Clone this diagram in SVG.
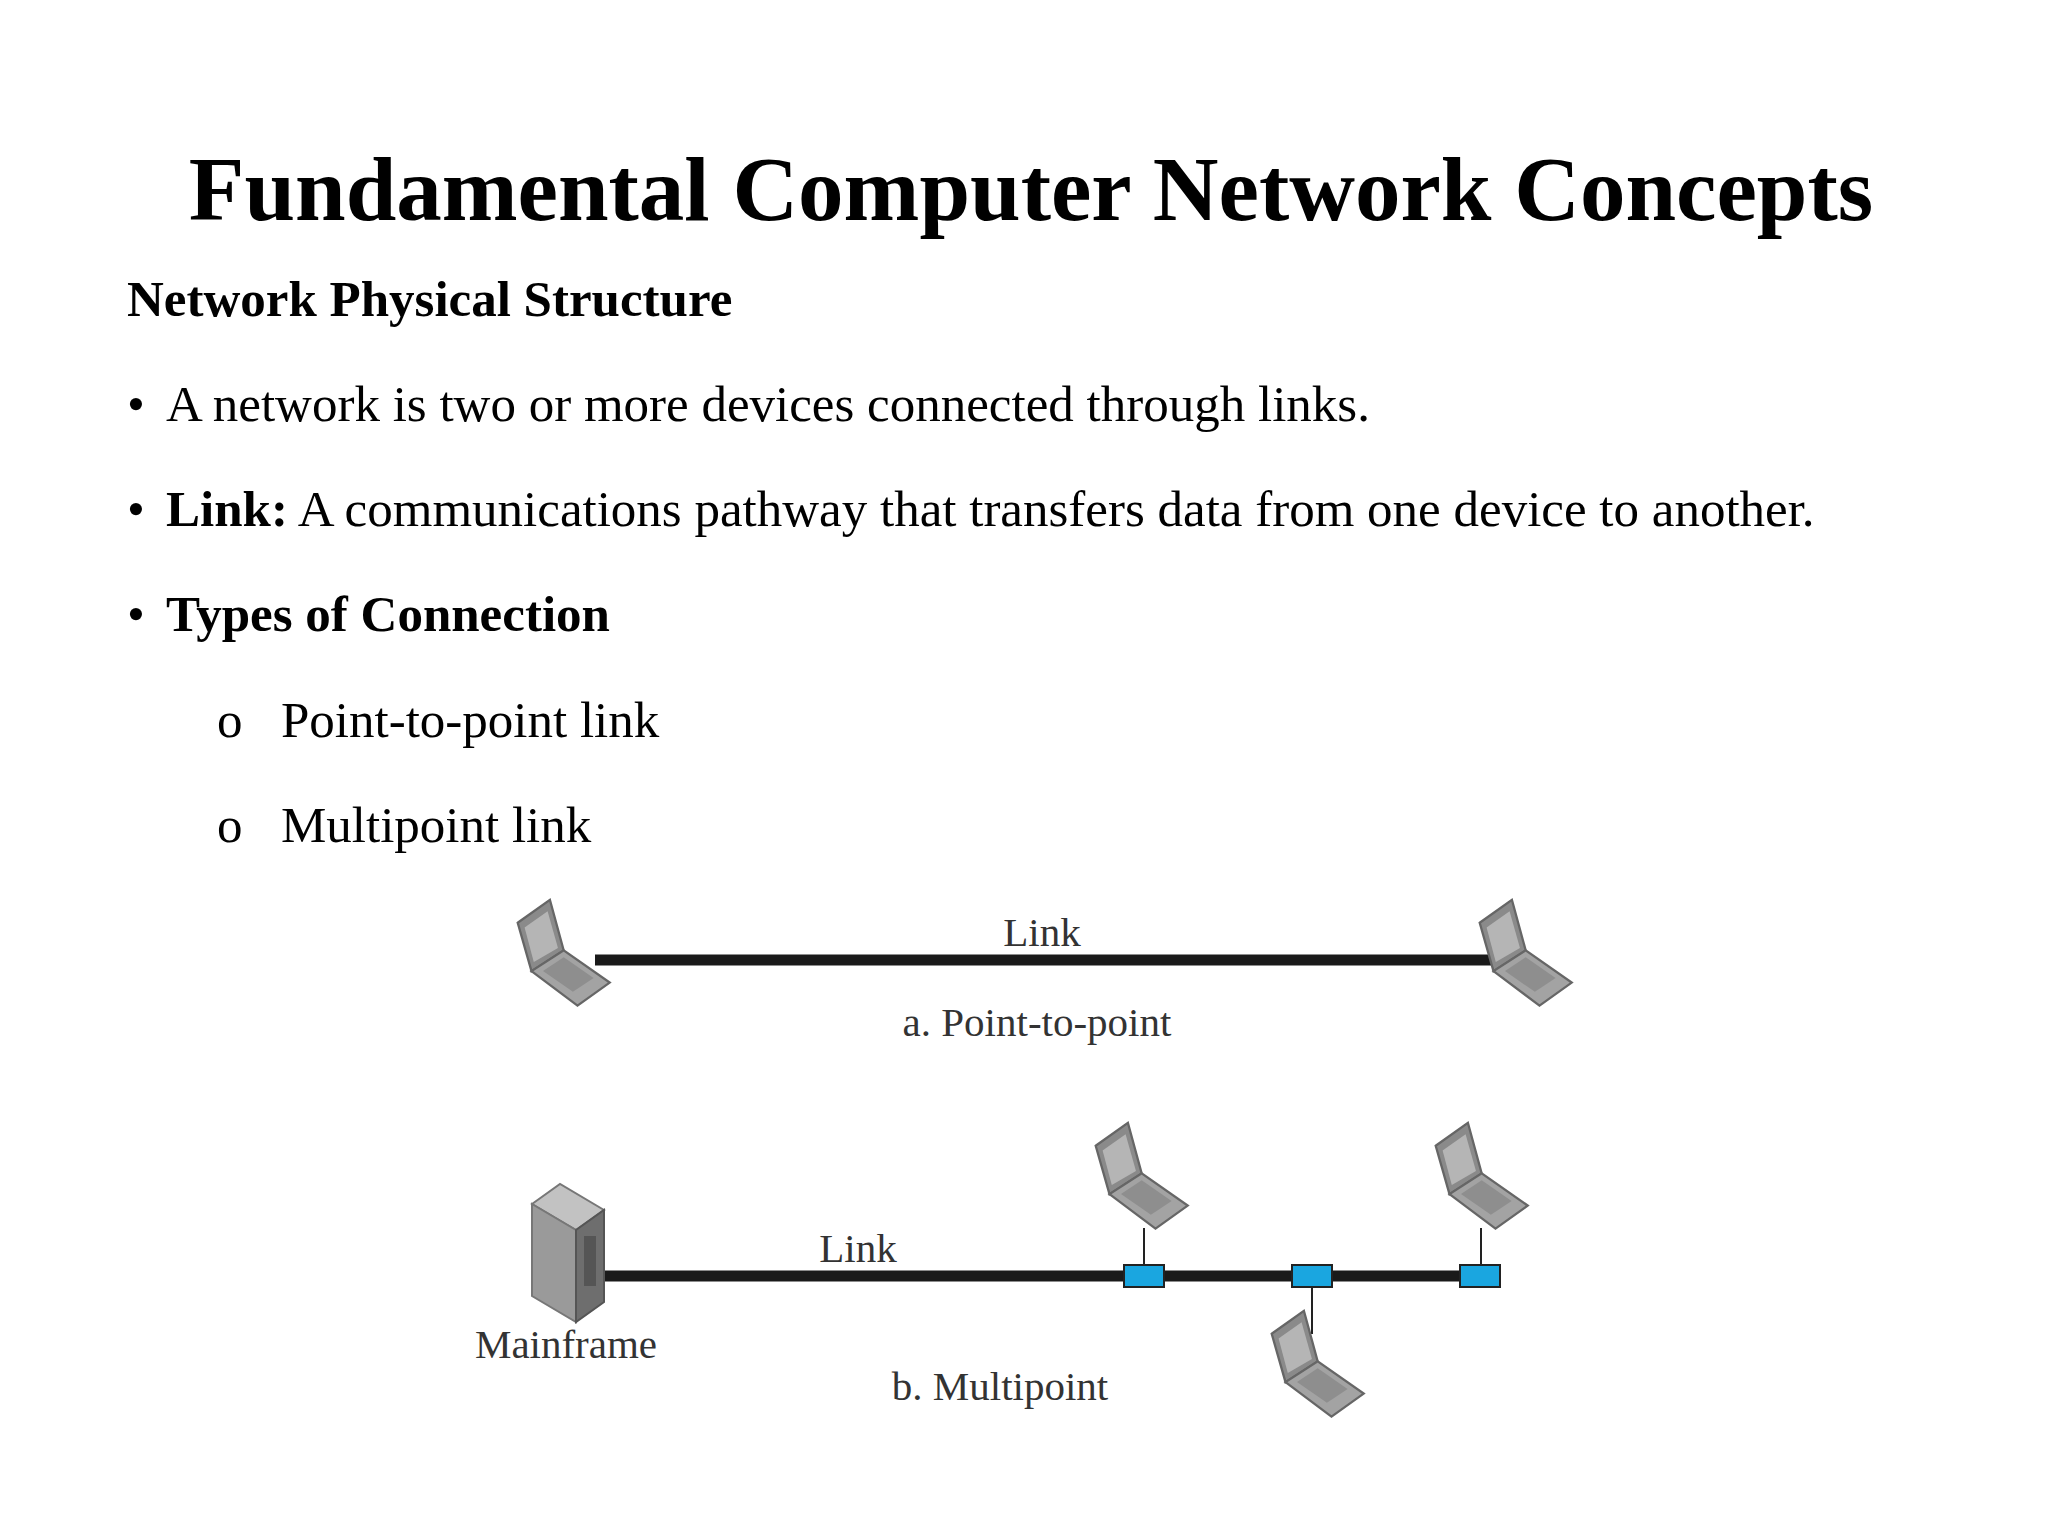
<svg xmlns="http://www.w3.org/2000/svg" width="2048" height="1536" viewBox="0 0 2048 1536">
<style>
.t{font-family:"Liberation Serif","Times New Roman",serif;fill:#000}
.d{font-family:"Liberation Serif","Times New Roman",serif;fill:#333;font-size:41px}
.bus{stroke:#1a1a1a;stroke-width:11}
.drop{stroke:#222;stroke-width:2}
.box{fill:#1aa6e0;stroke:#222;stroke-width:2}
</style>
<defs>
<g id="laptop">
<g transform="scale(1.15)">
<polygon points="-42,-28 -14,-48 -2,-4 -30,14" fill="#8a8a8a" stroke="#666" stroke-width="2"/>
<polygon points="-36,-24 -16,-38 -7,-6 -28,6" fill="#b5b5b5"/>
<polygon points="-30,14 -2,-4 38,24 10,44" fill="#a3a3a3" stroke="#666" stroke-width="2"/>
<polygon points="-20,14 -2,2 24,20 6,32" fill="#8e8e8e"/>
</g>
</g>
</defs>
<rect width="2048" height="1536" fill="#fff"/>
<text class="t" x="1031" y="220" font-size="91" font-weight="bold" text-anchor="middle">Fundamental Computer Network Concepts</text>
<text class="t" x="127" y="316" font-size="51" font-weight="bold">Network Physical Structure</text>
<g class="t" font-size="51">
<text x="127" y="421">•</text><text x="166" y="421">A network is two or more devices connected through links.</text>
<text x="127" y="526">•</text><text x="166" y="526"><tspan font-weight="bold">Link:</tspan> A communications pathway that transfers data from one device to another.</text>
<text x="127" y="631">•</text><text x="166" y="631" font-weight="bold">Types of Connection</text>
<text x="217" y="737">o</text><text x="281" y="737">Point-to-point link</text>
<text x="217" y="842">o</text><text x="281" y="842">Multipoint link</text>
</g>
<g id="connectors">
<line class="bus" x1="595" y1="960" x2="1494" y2="960"/>
<line class="bus" x1="600" y1="1276" x2="1500" y2="1276"/>
<line class="drop" x1="1144" y1="1228" x2="1144" y2="1276"/>
<line class="drop" x1="1481" y1="1228" x2="1481" y2="1276"/>
<line class="drop" x1="1312" y1="1276" x2="1312" y2="1334"/>
</g>
<g id="laptop-a1"><use href="#laptop" x="566" y="955"/></g>
<g id="laptop-a2"><use href="#laptop" x="1528" y="955"/></g>
<g id="laptop-b1"><use href="#laptop" x="1144" y="1178"/></g>
<g id="laptop-b2"><use href="#laptop" x="1484" y="1178"/></g>
<g id="laptop-b3"><use href="#laptop" x="1320" y="1366"/></g>
<g id="mainframe">
<polygon points="532,1204 560,1184 604,1210 576,1230" fill="#c2c2c2" stroke="#777" stroke-width="2"/>
<polygon points="532,1204 576,1230 576,1322 532,1296" fill="#9a9a9a" stroke="#777" stroke-width="2"/>
<polygon points="576,1230 604,1210 604,1302 576,1322" fill="#6e6e6e" stroke="#555" stroke-width="2"/>
<rect x="584" y="1236" width="12" height="50" fill="#555"/>
</g>
<g id="taps">
<rect class="box" x="1124" y="1265" width="40" height="22"/>
<rect class="box" x="1292" y="1265" width="40" height="22"/>
<rect class="box" x="1460" y="1265" width="40" height="22"/>
</g>
<text class="d" x="1042" y="946" text-anchor="middle">Link</text>
<text class="d" x="1037" y="1036" text-anchor="middle">a. Point-to-point</text>
<text class="d" x="858" y="1262" text-anchor="middle">Link</text>
<text class="d" x="566" y="1358" text-anchor="middle">Mainframe</text>
<text class="d" x="1000" y="1400" text-anchor="middle">b. Multipoint</text>
</svg>
